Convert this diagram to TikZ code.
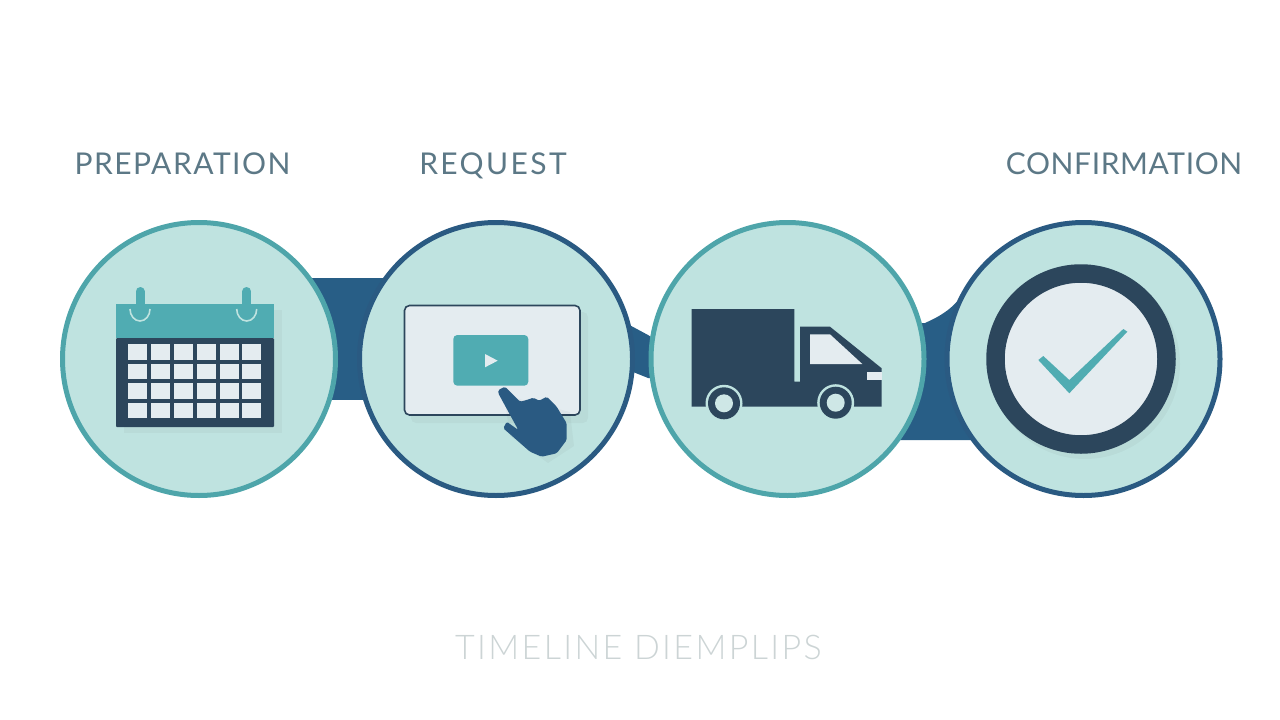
\documentclass[tikz,border=0pt]{standalone}
\usepackage{fontspec}
\setmainfont{Lato}
\newfontfamily\spacedfont{Lato}[UprightFont=* Light,LetterSpace=7]
\usetikzlibrary{calc, backgrounds}
\definecolor{tealedge}{RGB}{78, 165, 170}
\definecolor{navyedge}{RGB}{42, 90, 130}
\definecolor{bandblue}{RGB}{40, 94, 134}
\definecolor{discfill}{RGB}{191, 227, 224}
\definecolor{inkdark}{RGB}{44, 70, 92}
\definecolor{tealmid}{RGB}{80, 172, 178}
\definecolor{paper}{RGB}{228, 236, 240}
\definecolor{titlegrey}{RGB}{92, 120, 134}
\definecolor{footgrey}{RGB}{204, 212, 213}

\begin{document}
\begin{tikzpicture}[
  x=1pt, y=-1pt,
  stepc/.style={circle, fill=discfill, line width=5pt, minimum size=273pt, inner sep=0pt},
  band/.style={fill=bandblue},
  lbl/.style={text=titlegrey, anchor=base, inner sep=0pt, font=\fontsize{30}{36}\selectfont\addfontfeature{LetterSpace=#1}},
  cell/.style={fill=paper},
  shade/.style={fill=black, opacity=0.03},
]
  \useasboundingbox (0,0) rectangle (1280,720);

  \node[stepc, draw=tealedge] (prep) at (199,359) {};
  \node[stepc, draw=navyedge] (req) at (496,359) {};
  \node[stepc, draw=tealedge] (ship) at (787.5,359) {};
  \node[stepc, draw=navyedge] (conf) at (1083.5,359) {};

  % bands behind the discs
  \begin{pgfonlayer}{background}
    \fill[band] ($(prep)+(0,-81)$) -- ($(req)+(0,-81)$) -- ($(req)+(0,41)$) -- ($(prep)+(0,41)$) -- cycle;
    \fill[band] ($(req)+(100,-52)$) -- ($(ship)+(-139.5,-24)$) -- ($(ship)+(-100,0)$) -- ($(ship)+(-100,21)$) -- ($(ship)+(-139.5,19)$) -- ($(req)+(100,-2)$) -- cycle;
    \fill[band] ($(ship)+(100,-36)$) -- ($(ship)+(137.5,-36)$) .. controls ($(ship)+(155,-44)$) and ($(ship)+(165,-50)$) .. ($(conf)+(-118,-68)$) -- ($(conf)+(-80,-68)$) -- ($(conf)+(-80,81)$) -- ($(ship)+(100,81)$) -- cycle;
  \end{pgfonlayer}

  \node[lbl=5] (preplbl) at (182.5,174.5) {PREPARATION};
  \node[lbl=8] (reqlbl) at (493,174.5) {REQUEST};
  \node[lbl=2] (conflbl) at (1124,174.5) {CONFIRMATION};
  \node[text=footgrey, font=\spacedfont\fontsize{34}{40}\selectfont, inner sep=0pt] (foot) at (638.5,647) {TIMELINE DIEMPLIPS};

  % calendar
  \fill[shade] (124,310) rectangle (282,433);
  \fill[fill=tealmid] (116,304) rectangle (274,338);
  \fill[fill=inkdark, rounded corners=1pt] (116,338) rectangle (274,427);
  \foreach \i in {0,...,5}
    \foreach \j in {0,...,3}
      \fill[cell] ({128.3+22.8*\i},{344+19.5*\j}) rectangle +(19,15.5);
  \foreach \px in {140,246.7} {
    \draw[line width=1.6pt, draw=discfill] (\px-10,309) arc[start angle=180, end angle=0, x radius=10, y radius=12];
    \draw[line width=9pt, line cap=round, draw=tealmid] (\px,291.5) -- (\px,314);
  }

  % screen with button and hand
  \fill[shade, rounded corners=5pt] (411,312) rectangle (588,423);
  \draw[fill=paper, draw=inkdark, line width=1.6pt, rounded corners=5pt] (404.5,305.5) rectangle (580,415);
  \fill[fill=tealmid, rounded corners=4pt] (453.3,335) rectangle (528.3,385.7);
  \fill[fill=paper] (485,354) -- (497.7,360.7) -- (485,367.3) -- cycle;
  \fill[shade] (504,395) -- (570,412) -- (574,446) -- (548,463) -- (510,436) -- cycle;
  \fill[fill=navyedge, rounded corners=1.5pt]
    (498.3,390) -- (505,386.7) -- (520,401.7) -- (526.7,400) -- (533.3,397.7) -- (539.3,400.7) -- (546.7,396.7)
    -- (556.7,406.7) -- (566.7,423.3) -- (566.7,440) -- (556.7,453.3) -- (541.7,456.7) -- (530,451.7)
    -- (503.3,428.3) -- (506.7,421.7) -- (518.3,430) -- (498.3,393.3) -- cycle;

  % truck
  \fill[fill=inkdark] (691.7,309) -- (794.3,309) -- (794.3,381.7) -- (800,381.7) -- (800,326.7) -- (830,326.7)
    -- (881.7,368.3) -- (881.7,406.7) -- (691.7,406.7) -- cycle;
  \fill[fill=paper] (810,334.3) -- (830,334.3) -- (862.3,364) -- (810,364) -- cycle;
  \fill[fill=paper] (867.3,371.7) rectangle (881.7,380);
  \foreach \wx/\wy in {724/403.3, 835.7/402.7} {
    \fill[fill=discfill] (\wx,\wy) circle[radius=18.5];
    \fill[fill=inkdark] (\wx,\wy) circle[radius=16];
    \fill[fill=discfill!60!paper] (\wx,\wy) circle[radius=9];
  }

  % ring with tick
  \fill[shade] (1085,364) circle[radius=95];
  \draw[fill=paper, draw=inkdark, line width=18.5pt] (1081,359) circle[radius=85.5];
  \fill[fill=tealmid] (1038.3,360) -- (1043.3,356) -- (1069.3,380) -- (1123.3,329) -- (1127.3,331.7) -- (1069.3,393.3) -- cycle;
\end{tikzpicture}
\end{document}
